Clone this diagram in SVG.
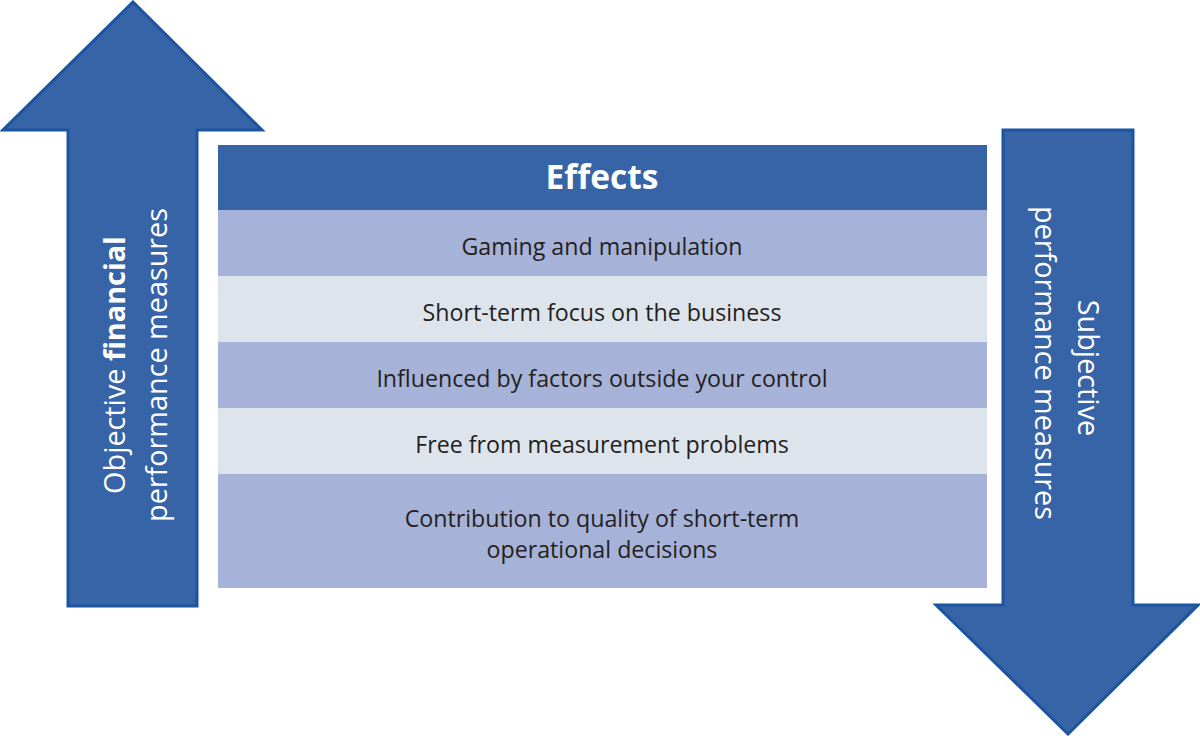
<svg xmlns="http://www.w3.org/2000/svg" width="1200" height="736" viewBox="0 0 1200 736">
<style>
.arrow{fill:#3763A7;stroke:#1C559F;stroke-width:3;stroke-linejoin:miter}
.atext{font-family:"Open Sans","Liberation Sans",sans-serif;font-size:28.8px;fill:#ffffff}
.rtext{font-family:"Open Sans","Liberation Sans",sans-serif;font-size:23.2px;fill:#231F20;text-anchor:middle}
.dark{fill:#3763A7}
.mid{fill:#A6B2D8}
.light{fill:#DEE4EC}
</style>
<rect width="1200" height="736" fill="#ffffff"/>
<g id="arrow-up">
<polygon class="arrow" points="133,2 262,130 197,130 197,606 68,606 68,130 3,130"/>
<text class="atext" transform="translate(125,365) rotate(-90)" text-anchor="middle">Objective <tspan font-weight="bold">financial</tspan></text>
<text class="atext" transform="translate(167,365) rotate(-90)" text-anchor="middle">performance measures</text>
</g>
<g id="arrow-down">
<polygon class="arrow" points="1003,130 1133,130 1133,605 1198,605 1068,734 936,605 1003,605"/>
<text class="atext" transform="translate(1078,368) rotate(90)" text-anchor="middle">Subjective</text>
<text class="atext" transform="translate(1035,363) rotate(90)" text-anchor="middle">performance measures</text>
</g>
<g id="effects-header">
<rect class="dark" x="218" y="145" width="769" height="65"/>
<text x="602" y="189" font-family="'Open Sans','Liberation Sans',sans-serif" font-size="33.5" font-weight="bold" fill="#ffffff" text-anchor="middle">Effects</text>
</g>
<g id="row1">
<rect class="mid" x="218" y="210" width="769" height="66"/>
<text class="rtext" x="602" y="255">Gaming and manipulation</text>
</g>
<g id="row2">
<rect class="light" x="218" y="276" width="769" height="66"/>
<text class="rtext" x="602" y="321">Short-term focus on the business</text>
</g>
<g id="row3">
<rect class="mid" x="218" y="342" width="769" height="66"/>
<text class="rtext" x="602" y="387">Influenced by factors outside your control</text>
</g>
<g id="row4">
<rect class="light" x="218" y="408" width="769" height="66"/>
<text class="rtext" x="602" y="453">Free from measurement problems</text>
</g>
<g id="row5">
<rect class="mid" x="218" y="474" width="769" height="114"/>
<text class="rtext" x="602" y="527">Contribution to quality of short-term</text>
<text class="rtext" x="602" y="558">operational decisions</text>
</g>
<g id="connectors"></g>
</svg>
